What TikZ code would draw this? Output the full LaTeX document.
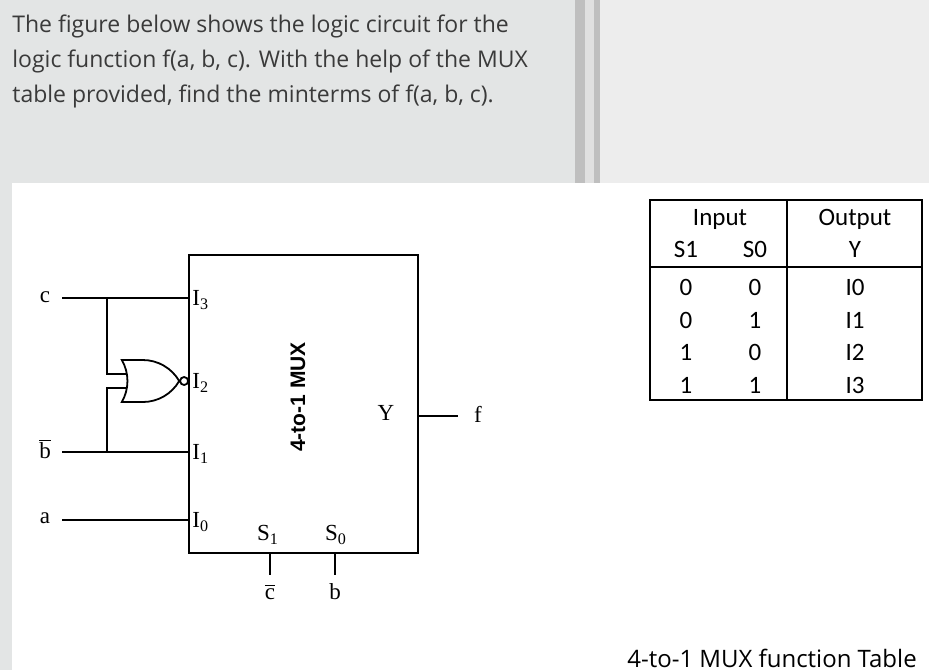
\documentclass[tikz,border=0pt]{standalone}
\usepackage{fontspec}
\setmainfont{Liberation Serif}
\newfontfamily\uifont{Open Sans}
\newfontfamily\tabfont{Carlito}
\newfontfamily\boldsans{Liberation Sans}
\usetikzlibrary{shapes.gates.logic.US}
\definecolor{panel}{HTML}{E3E5E5}
\definecolor{txt}{HTML}{3A3A3A}
\newcommand{\sbs}[1]{\textsubscript{#1}}
\tikzset{wire/.style={line width=0.9pt},lab/.style={font=\fontsize{11.5}{11.5}\selectfont,inner sep=0pt},
 tab/.style={font=\tabfont\fontsize{12.5}{12.5}\selectfont,inner sep=0pt}}
\begin{document}
\begin{tikzpicture}[x=0.5pt,y=-0.5pt]
\useasboundingbox (0,0) rectangle (929,670);
\fill[white] (0,0) rectangle (929,670);
\fill[panel] (0,0) rectangle (575,183);
\fill[panel] (0,183) rectangle (12,670);
\fill[black!25] (575,0) rectangle (600,183);
\fill[black!12] (585,0) rectangle (594,183);
\fill[black!7] (600,0) rectangle (929,183);
\node[anchor=north west,align=left,text=txt,font=\uifont\fontsize{11.5}{17.5}\selectfont,inner sep=0pt] (q) at (12,14)
 {The figure below shows the logic circuit for the\\logic function f(a, b, c). With the help of the MUX\\table provided, find the minterms of f(a, b, c).};
% MUX
\draw[wire] (189,255) rectangle (418,553);
\node[rotate=90,font=\boldsans\bfseries\fontsize{10.5}{10.5}\selectfont,inner sep=0pt] (mt) at (298,397) {4-to-1 MUX};
\coordinate (i3) at (189,298); \coordinate (i2) at (189,381); \coordinate (i1) at (189,452); \coordinate (i0) at (189,520);
\node[lab,anchor=west] (l3) at (192,300) {I\sbs{3}};
\node[lab,anchor=west] (l2) at (192,383) {I\sbs{2}};
\node[lab,anchor=west] (l1) at (192,454) {I\sbs{1}};
\node[lab,anchor=west] (l0) at (192,522) {I\sbs{0}};
\node[lab] (ls1) at (268,535) {S\sbs{1}};
\node[lab] (ls0) at (336,535) {S\sbs{0}};
\node[lab] (ly) at (386,413) {Y};
\node[lab] (nc) at (45,297) {c};
\node[lab] (nb) at (45,449) {$\overline{\mbox{b}}$};
\node[lab] (na) at (45,518) {a};
\coordinate (c0) at (62,298); \coordinate (b0) at (62,452); \coordinate (a0) at (62,520);
\draw[wire] (c0) -- (i3);
\draw[wire] (b0) -- (i1);
\draw[wire] (a0) -- (i0);
\node[nor gate US,draw,line width=0.9pt,logic gate inputs=nn,minimum width=27pt,minimum height=21pt,anchor=output] (g) at (i2) {};
\coordinate (jc) at (107,298); \coordinate (jb) at (107,452);
\draw[wire] (jc) -- (jc |- g.input 1) -- (g.input 1);
\draw[wire] (jb) -- (jb |- g.input 2) -- (g.input 2);
% selects
\coordinate (s1b) at (270,553); \coordinate (s1e) at (270,575);
\coordinate (s0b) at (335,553); \coordinate (s0e) at (335,575);
\draw[wire] (s1b) -- (s1e); \draw[wire] (s0b) -- (s0e);
\node[lab] (ncb) at (270,592) {$\overline{\mbox{c}}$};
\node[lab] (nbb) at (335,592) {b};
\coordinate (yo) at (418,416); \coordinate (ye) at (458,416);
\draw[wire] (yo) -- (ye);
\node[lab] (nf) at (478,414) {f};
% table
\draw[line width=0.6pt] (650,200) rectangle (922,400);
\draw[line width=0.6pt] (787,200) -- (787,400);
\draw[line width=0.6pt] (650,267) -- (922,267);
\node[tab] (ti) at (720,219) {Input};
\node[tab] (to) at (855,219) {Output};
\node[tab] (ts1) at (686,249) {S1};
\node[tab] (ts0) at (755,249) {S0};
\node[tab] (ty) at (855,249) {Y};
\foreach \y/\p/\q/\r [count=\k] in {287/0/0/I0,320/0/1/I1,352/1/0/I2,385/1/1/I3}{
 \node[tab] (ra\k) at (686,\y) {\p};
 \node[tab] (rb\k) at (755,\y) {\q};
 \node[tab] (rc\k) at (855,\y) {\r};
}
\node[font=\uifont\fontsize{12}{12}\selectfont,inner sep=0pt,text=black] (cap) at (772,658) {4-to-1 MUX function Table};
\end{tikzpicture}
\end{document}
